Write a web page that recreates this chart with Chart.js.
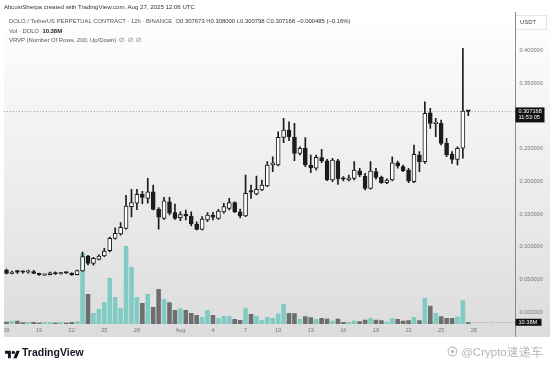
<!DOCTYPE html>
<html>
<head>
<meta charset="utf-8">
<script src="https://cdn.jsdelivr.net/npm/chart.js@4.4.1/dist/chart.umd.min.js"></script>
<style>
html,body{margin:0;padding:0;background:#fff;}
#wrap{position:relative;width:554px;height:369px;overflow:hidden;font-family:"Liberation Sans",Arial,sans-serif;}
#c{position:absolute;left:0;top:0;}
.t{position:absolute;white-space:nowrap;line-height:1;}
.lg{font-size:5.9px;color:#555;}
.lg b{color:#222;font-weight:bold;}
</style>
</head>
<body>
<div id="wrap">
  <canvas id="c" width="554" height="369"></canvas>
  <div class="t" style="left:4px;top:3.5px;font-size:6.1px;color:#333">AltcoinSherpa created with TradingView.com, Aug 27, 2025 12:06 UTC</div>
  <div class="t lg" style="left:9px;top:19px">DOLO / TetherUS PERPETUAL CONTRACT · 12h · BINANCE &nbsp;O<span style="color:#333">0.307673</span> H<span style="color:#333">0.308000</span> L<span style="color:#333">0.300798</span> C<span style="color:#333">0.307168</span> <span style="color:#333">−0.000485 (−0.16%)</span></div>
  <div class="t lg" style="left:9px;top:28.5px">Vol · DOLO &nbsp;<b>10.38M</b></div>
  <div class="t lg" style="left:9px;top:38px">VRVP (Number Of Rows, 200, Up/Down) &nbsp;∅ &nbsp;∅ &nbsp;∅</div>
  <div class="t" style="left:520px;top:19.5px;font-size:5.9px;color:#444">USDT</div>
  <div class="t" style="left:5px;top:347px">
    <svg width="15" height="11" viewBox="0 0 36 26"><path d="M14 22H7V11H0V4h14v18zM28 22h-8l7.5-18h8L28 22z" fill="#131722"/><circle cx="20" cy="8" r="4" fill="#131722"/></svg>
  </div>
  <div class="t" style="left:22px;top:347px;font-size:10.5px;font-weight:bold;color:#131722">TradingView</div>
  <div class="t" style="left:447px;top:346px;font-size:11.5px;color:#b4b4b4">
    <svg width="11" height="11" viewBox="0 0 10 10" style="vertical-align:-1px"><circle cx="5" cy="5" r="4" fill="none" stroke="#bbb" stroke-width="1"/><circle cx="5" cy="5" r="1.5" fill="#bbb"/></svg>
    @Crypto速递车
  </div>
</div>
<script>
// ---- data (12h candles, DOLO/USDT perp) ----
const opens = [0.0647,0.0593,0.0618,0.0614,0.0612,0.0621,0.0596,0.0566,0.0575,0.0605,0.0586,0.0602,0.0598,0.0575,
  0.0632,0.0861,0.0749,0.0810,0.0861,0.0942,0.1131,0.1197,0.1284,0.1615,0.1667,0.1804,0.1743,0.1844,0.1575,0.1437,
  0.1691,0.1523,0.1447,0.1498,0.1472,0.1350,0.1269,0.1411,0.1483,0.1437,0.1534,0.1590,0.1676,0.1538,0.1472,0.1845,
  0.1809,0.1870,0.1931,0.2252,0.2252,0.2676,0.2787,0.2676,0.2431,0.2508,0.2252,0.2202,0.2364,0.2318,0.2023,0.2318,
  0.2058,0.2023,0.2049,0.2165,0.2084,0.1896,0.2150,0.2064,0.1982,0.2023,0.2287,0.2227,0.2176,0.1997,0.2405,0.2303,
  0.3052,0.2885,0.2890,0.2584,0.2416,0.2339,0.2508,0.307673];
const closes = [0.0596,0.0616,0.0614,0.0612,0.0618,0.0596,0.0570,0.0581,0.0605,0.0586,0.0605,0.0598,0.0572,0.0636,
  0.0853,0.0749,0.0826,0.0861,0.0937,0.1131,0.1208,0.1300,0.1625,0.1676,0.1804,0.1758,0.1844,0.1575,0.1453,0.1706,
  0.1514,0.1437,0.1493,0.1472,0.1350,0.1269,0.1427,0.1488,0.1453,0.1549,0.1615,0.1676,0.1538,0.1472,0.1820,0.1838,
  0.1881,0.1946,0.2252,0.2287,0.2676,0.2787,0.2685,0.2431,0.2508,0.2252,0.2211,0.2370,0.2313,0.2023,0.2329,0.2038,
  0.2034,0.2058,0.2176,0.2099,0.1896,0.2161,0.2064,0.1982,0.2023,0.2287,0.2237,0.2165,0.2008,0.2416,0.2303,0.3043,
  0.2890,0.2895,0.2584,0.2405,0.2339,0.2508,0.3077,0.307168];
const highs = [0.0660,0.0630,0.0640,0.0635,0.0645,0.0640,0.0600,0.0590,0.0615,0.0620,0.0612,0.0608,0.0604,0.0645,
  0.0922,0.0872,0.0840,0.0880,0.0980,0.1150,0.1290,0.1370,0.1790,0.1880,0.1880,0.1850,0.2049,0.1946,0.1600,0.1758,
  0.1758,0.1656,0.1538,0.1564,0.1538,0.1385,0.1462,0.1523,0.1530,0.1575,0.1667,0.1743,0.1691,0.1580,0.2100,0.1946,
  0.2084,0.2023,0.2303,0.2379,0.2761,0.2966,0.2914,0.2890,0.2532,0.2670,0.2405,0.2405,0.2492,0.2339,0.2355,0.2339,
  0.2075,0.2099,0.2303,0.2202,0.2125,0.2303,0.2202,0.2084,0.2040,0.2379,0.2313,0.2252,0.2202,0.2558,0.2456,0.3220,
  0.3119,0.2966,0.2940,0.2660,0.2456,0.2532,0.4037,0.3080];
const lows = [0.0585,0.0585,0.0595,0.0598,0.0600,0.0590,0.0565,0.0562,0.0570,0.0580,0.0582,0.0594,0.0565,0.0570,
  0.0625,0.0723,0.0720,0.0800,0.0850,0.0925,0.1120,0.1180,0.1270,0.1460,0.1570,0.1660,0.1670,0.1564,0.1270,0.1422,
  0.1488,0.1422,0.1401,0.1411,0.1320,0.1258,0.1258,0.1385,0.1411,0.1422,0.1514,0.1564,0.1523,0.1442,0.1462,0.1743,
  0.1794,0.1860,0.1920,0.2150,0.2237,0.2594,0.2624,0.2318,0.2405,0.2226,0.2134,0.2176,0.2287,0.2012,0.1997,0.1957,
  0.2010,0.2008,0.2023,0.2073,0.1870,0.1881,0.2034,0.1972,0.1965,0.2008,0.2202,0.2150,0.1982,0.1982,0.2150,0.2278,
  0.2813,0.2685,0.2558,0.2379,0.2278,0.2252,0.2355,0.300798];
// volume in millions
const volumes = [14,18,20,10,12,12,8,10,10,8,10,8,12,16,
  426,180,66,90,132,276,162,96,468,342,162,126,180,102,210,150,
  130,84,94,84,66,54,42,84,54,36,48,46,30,24,94,60,
  48,24,42,36,63,120,66,64,30,46,40,30,36,32,20,32,
  12,12,20,16,26,36,26,22,14,34,30,20,22,42,22,158,
  110,66,46,36,36,44,142,10.38];

const xTickLabels = {'07-16 00':'16','07-19 00':'19','07-22 00':'22','07-25 00':'25','07-28 00':'28',
  '08-01 00':'Aug','08-04 00':'4','08-07 00':'7','08-10 00':'10','08-13 00':'13','08-16 00':'16',
  '08-19 00':'19','08-22 00':'22','08-25 00':'25','08-28 00':'28'};
const priceTicks = [0,0.05,0.1,0.15,0.2,0.25,0.3,0.35,0.4];
const lastPriceLabel = ['0.307168','11:53:05'];
const lastVolLabel = '10.38M';

// 12h slots from Jul 16 to Aug 31 (right side stays empty)
const slots = [];
for (let d = new Date(Date.UTC(2025,6,16)); d <= new Date(Date.UTC(2025,7,31,12)); d = new Date(d.getTime()+12*3600e3)) {
  const mm = String(d.getUTCMonth()+1).padStart(2,'0');
  const dd = String(d.getUTCDate()).padStart(2,'0');
  slots.push(mm+'-'+dd+' '+String(d.getUTCHours()).padStart(2,'0'));
}

const UP_VOL = '#80cbc3', DN_VOL = '#6e6e6e', INK = '#1c1c1c';
const isUp = opens.map((o,i)=> closes[i] >= o);

Chart.defaults.font.family = '"Liberation Sans", Arial, sans-serif';

const frame = {
  id:'frame',
  beforeDraw(c){
    const g = c.ctx;
    g.save();
    g.fillStyle = '#fff';
    g.fillRect(0,0,c.width,c.height);
    const gr = g.createLinearGradient(0,12,0,337);
    gr.addColorStop(0,'#ffffff');
    gr.addColorStop(1,'#dcdcdc');
    g.fillStyle = gr;
    g.fillRect(4,12,546,325);
    g.strokeStyle = '#e6e6e6';
    g.lineWidth = 1;
    g.strokeRect(515.5,15.5,31,14);
    g.restore();
  },
  beforeDatasetsDraw(c){
    const g = c.ctx, a = c.chartArea;
    const yp = Math.round(c.scales.y.getPixelForValue(closes[closes.length-1])) + 0.5;
    const yv = Math.round(c.scales.v.getPixelForValue(volumes[volumes.length-1])) + 0.5;
    g.save();
    g.strokeStyle = '#9a9a9a';
    g.lineWidth = 1;
    g.setLineDash([1,2]);
    g.beginPath();
    g.moveTo(a.left, yp); g.lineTo(a.right, yp);
    g.moveTo(a.left, yv); g.lineTo(a.right, yv);
    g.stroke();
    g.restore();
  },
  afterDraw(c){
    const g = c.ctx, a = c.chartArea;
    const yp = c.scales.y.getPixelForValue(closes[closes.length-1]);
    const yv = c.scales.v.getPixelForValue(volumes[volumes.length-1]);
    g.save();
    g.strokeStyle = '#8a8a8a';
    g.lineWidth = 1;
    g.beginPath();
    g.moveTo(Math.round(a.right)+0.5, 12);
    g.lineTo(Math.round(a.right)+0.5, 337);
    g.stroke();
    // last price tag
    g.fillStyle = '#111';
    g.fillRect(a.right+1, yp-4, 29, 15);
    g.fillStyle = '#fff';
    g.font = '5.6px "Liberation Sans", Arial, sans-serif';
    g.textBaseline = 'middle';
    g.fillText(lastPriceLabel[0], a.right+4, yp);
    g.fillText(lastPriceLabel[1], a.right+4, yp+6.5);
    // last volume tag
    g.fillStyle = '#111';
    g.fillRect(a.right+1, yv-3.5, 26, 7);
    g.fillStyle = '#fff';
    g.fillText(lastVolLabel, a.right+4, yv);
    g.restore();
  }
};

new Chart(document.getElementById('c'), {
  type:'bar',
  data:{
    labels: slots,
    datasets:[
      { label:'body', data: opens.map((o,i)=>[o, closes[i]]),
        backgroundColor: isUp.map(u=> u ? '#ffffff' : INK),
        borderColor: INK, borderWidth:1, borderSkipped:false,
        barThickness:4, minBarLength:1.5, grouped:false, yAxisID:'y', order:1 },
      { label:'wick', data: lows.map((l,i)=>[l, highs[i]]),
        backgroundColor: INK, barThickness:1, grouped:false, yAxisID:'y', order:2 },
      { label:'volume', data: volumes,
        backgroundColor: isUp.map(u=> u ? UP_VOL : DN_VOL),
        categoryPercentage:1, barPercentage:0.84, grouped:false, yAxisID:'v', order:3 }
    ]
  },
  options:{
    responsive:false,
    animation:false,
    events:[],
    layout:{ padding:{ left:3.8, top:12, right:0, bottom:33 } },
    plugins:{ legend:{display:false}, tooltip:{enabled:false} },
    scales:{
      x:{
        grid:{display:false, drawTicks:false}, border:{display:false},
        ticks:{ autoSkip:false, maxRotation:0, minRotation:0, padding:3, color:'#777', font:{size:5.6},
          callback:(v,i)=> xTickLabels[slots[i]] || '' },
        afterFit(s){ s.height = 12; }
      },
      y:{
        position:'right', min:-0.0179, max:0.4592,
        grid:{display:false, drawTicks:false}, border:{display:false},
        afterBuildTicks(s){ s.ticks = priceTicks.map(v=>({value:v})); },
        ticks:{ padding:5, color:'#777', font:{size:5.6}, callback:v=>v.toFixed(6) },
        afterFit(s){ s.width = 39.5; }
      },
      v:{ display:false, min:0, max:1872 }
    }
  },
  plugins:[frame]
});
</script>
</body>
</html>
